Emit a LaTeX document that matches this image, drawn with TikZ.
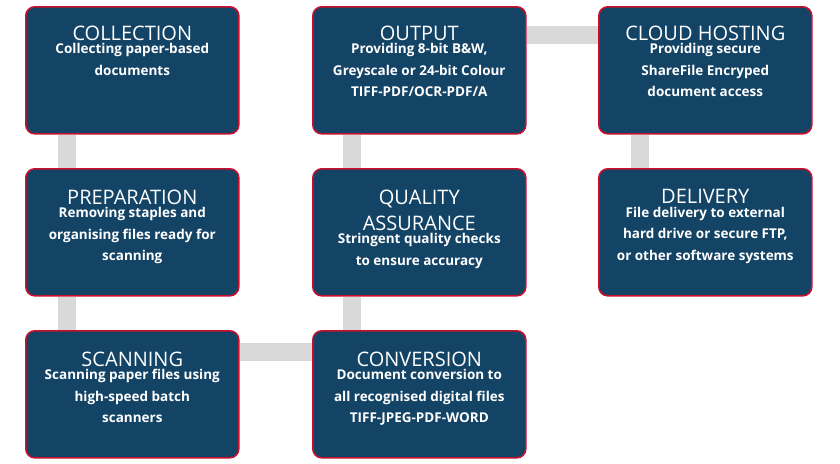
\documentclass[tikz,border=0pt]{standalone}
\usepackage{fontspec}
\setmainfont{Open Sans}
\usetikzlibrary{positioning,backgrounds}
\definecolor{boxblue}{HTML}{134466}
\definecolor{boxred}{HTML}{C8102E}
\definecolor{linkgrey}{HTML}{D9D9D9}
\tikzset{
  stage/.style={draw=boxred, line width=1.6pt, fill=boxblue, rounded corners=9pt,
    minimum width=213pt, minimum height=127pt, anchor=north west, inner sep=0pt},
  title/.style={text=white, font=\fontsize{20}{22}\selectfont, anchor=north},
  body/.style={text=white, font=\fontsize{13.5}{21.5}\selectfont\bfseries, align=center, anchor=north},
  link/.style={linkgrey, line width=18pt}
}
\begin{document}
\begin{tikzpicture}[x=1pt,y=-1pt]
  \useasboundingbox (0,0) rectangle (840,463);
  % boxes
  \node[stage] (coll)  at (25,6)    {};
  \node[stage] (prep)  at (25,168)  {};
  \node[stage] (scan)  at (25,330)  {};
  \node[stage] (outp)  at (312,6)   {};
  \node[stage] (qual)  at (312,168) {};
  \node[stage] (conv)  at (312,330) {};
  \node[stage] (cloud) at (598,6)   {};
  \node[stage] (deliv) at (598,168) {};

  % texts
  \node[title] (collT) at ([yshift=-16pt]coll.north) {COLLECTION};
  \node[body]  [below=-4pt of collT] {Collecting paper-based\\documents};
  \node[title] (prepT) at ([yshift=-18pt]prep.north) {PREPARATION};
  \node[body]  [below=-4pt of prepT] {Removing staples and\\organising files ready for\\scanning};
  \node[title] (scanT) at ([yshift=-18pt]scan.north) {SCANNING};
  \node[body]  [below=-4pt of scanT] {Scanning paper files using\\high-speed batch\\scanners};
  \node[title] (outpT) at ([yshift=-16pt]outp.north) {OUTPUT};
  \node[body]  [below=-4pt of outpT] {Providing 8-bit B\&W,\\Greyscale or 24-bit Colour\\TIFF-PDF/OCR-PDF/A};
  \node[title, align=center, font=\fontsize{20}{26}\selectfont] (qualT) at ([yshift=-18pt]qual.north) {QUALITY\\ASSURANCE};
  \node[body]  [below=-4pt of qualT] {Stringent quality checks\\to ensure accuracy};
  \node[title] (convT) at ([yshift=-18pt]conv.north) {CONVERSION};
  \node[body]  [below=-4pt of convT] {Document conversion to\\all recognised digital files\\TIFF-JPEG-PDF-WORD};
  \node[title] (cloudT) at ([yshift=-16pt]cloud.north) {CLOUD HOSTING};
  \node[body]  [below=-4pt of cloudT] {Providing secure\\ShareFile Encryped\\document access};
  \node[title] (delivT) at ([yshift=-18pt]deliv.north) {DELIVERY};
  \node[body]  [below=-4pt of delivT] {File delivery to external\\hard drive or secure FTP,\\or other software systems};

  % links
  \begin{scope}[on background layer]
    \draw[link] ([xshift=42pt]coll.south west) -- ([xshift=42pt]prep.north west);
    \draw[link] ([xshift=42pt]prep.south west) -- ([xshift=42pt]scan.north west);
    \draw[link] ([yshift=-22pt]scan.north east) -- ([yshift=-22pt]conv.north west);
    \draw[link] ([xshift=40pt]conv.north west) -- ([xshift=40pt]qual.south west);
    \draw[link] ([xshift=40pt]qual.north west) -- ([xshift=40pt]outp.south west);
    \draw[link] ([yshift=-29pt]outp.north east) -- ([yshift=-29pt]cloud.north west);
    \draw[link] ([xshift=42pt]cloud.south west) -- ([xshift=42pt]deliv.north west);
  \end{scope}
\end{tikzpicture}
\end{document}
